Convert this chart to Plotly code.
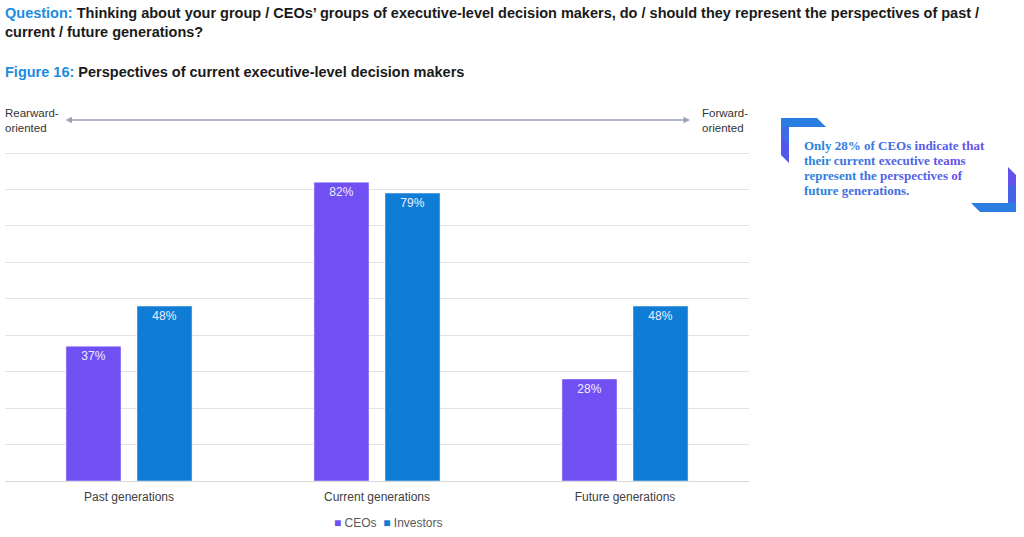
import plotly.graph_objects as go

categories = ["Past generations", "Current generations", "Future generations"]
ceos = [37, 82, 28]
investors = [48, 79, 48]
series_names = ["CEOs", "Investors"]
colors = ["#7050F2", "#0F7DD5"]

W, H = 1024, 537
L, R, T, B = 5, 749, 149, 481  # plot area in px
YMAX = 91.1


def px(x):
    return (x - L) / (R - L)


def py(y):
    return (B - y) / (B - T)


fig = go.Figure()
for name, vals, col in zip(series_names, [ceos, investors], colors):
    fig.add_trace(go.Bar(
        x=categories, y=vals, name=name,
        marker=dict(color=col, line=dict(color="rgba(255,255,255,0.45)", width=1)),
        text=[f"{v}%" for v in vals], textposition="inside", insidetextanchor="end",
        textfont=dict(color="#EEEEFF", size=12, family="Liberation Sans, Arial"),
        showlegend=False,
    ))

fig.update_layout(
    width=W, height=H,
    margin=dict(l=L, r=W - R, t=T, b=H - B),
    paper_bgcolor="white", plot_bgcolor="white",
    barmode="group", bargap=0.427, bargroupgap=0.225,
    font=dict(family="Liberation Sans, Arial", color="#404040"),
    xaxis=dict(showgrid=False, showline=False, ticks="", ticklabelstandoff=7,
               tickfont=dict(size=12, color="#404040")),
    yaxis=dict(range=[0, YMAX], dtick=10, showticklabels=False,
               gridcolor="#E3E3E3", gridwidth=1, zeroline=True,
               zerolinecolor="#D9D9D9", zerolinewidth=1),
)

ann = []
# Titles
ann.append(dict(x=px(3), y=py(3), xref="paper", yref="paper", xanchor="left", yanchor="top",
                align="left", showarrow=False,
                text="<b><span style='color:#1B8CE0'>Question:</span> Thinking about your group / CEOs’ groups of executive-level decision makers, do / should they represent the perspectives of past /<br>current / future generations?</b>",
                font=dict(size=14.5, color="#1A1A1A", family="Liberation Sans, Arial")))
ann.append(dict(x=px(3), y=py(62), xref="paper", yref="paper", xanchor="left", yanchor="top",
                align="left", showarrow=False,
                text="<b><span style='color:#1B8CE0'>Figure 16:</span> Perspectives of current executive-level decision makers</b>",
                font=dict(size=14.5, color="#1A1A1A", family="Liberation Sans, Arial")))
# Orientation labels
ann.append(dict(x=px(3), y=py(105), xref="paper", yref="paper", xanchor="left", yanchor="top",
                align="left", showarrow=False, text="Rearward-<br>oriented",
                font=dict(size=11.5, color="#333333")))
ann.append(dict(x=px(700), y=py(105), xref="paper", yref="paper", xanchor="left", yanchor="top",
                align="left", showarrow=False, text="Forward-<br>oriented",
                font=dict(size=11.5, color="#333333")))
ann.append(dict(x=px(690), y=py(120), xref="paper", yref="paper", text="", showarrow=True,
                ax=-626, ay=0, arrowside="end+start", arrowhead=2, arrowsize=1,
                arrowwidth=1.3, arrowcolor="#9AA2B4"))

# Legend
leg = "&nbsp;&nbsp;".join(
    f"<span style='color:{c}'>■</span>&nbsp;{n}" for n, c in zip(series_names, colors))
ann.append(dict(x=px(388), y=py(523), xref="paper", yref="paper", showarrow=False,
                xanchor="center", yanchor="middle",
                text=leg, font=dict(size=12, color="#595959")))

# Callout text with gradient colouring
callout_lines = ["Only 28% of CEOs indicate that", "their current executive teams",
                 "represent the perspectives of", "future generations."]
c0 = (0x26, 0x88, 0xDC)
c1 = (0x6C, 0x4E, 0xF0)


def grad(t):
    r = [int(a + (b - a) * t) for a, b in zip(c0, c1)]
    return "#%02X%02X%02X" % tuple(r)


maxlen = max(len(s) for s in callout_lines)
for i, line in enumerate(callout_lines):
    parts = []
    pos = 0
    for w in line.split(" "):
        t = (pos + len(w) / 2) / maxlen
        parts.append(f"<span style='color:{grad(t)}'>{w}</span>")
        pos += len(w) + 1
    ann.append(dict(x=px(802), y=py(145 + 15 * i), xref="paper", yref="paper",
                    xanchor="left", yanchor="middle", showarrow=False,
                    text="<b>" + " ".join(parts) + "</b>",
                    font=dict(size=13, family="Liberation Serif, Times New Roman")))

fig.update_layout(annotations=ann)


def path(pts):
    return "M " + " L ".join(f"{px(a)},{py(b)}" for a, b in pts) + " Z"


shapes = [
    dict(type="path", xref="paper", yref="paper", line=dict(width=0), fillcolor="#2A7EE2",
         path=path([(781, 118), (817, 118), (826, 127), (789, 127), (781, 127)])),
    dict(type="path", xref="paper", yref="paper", line=dict(width=0), fillcolor="#3D6CE6",
         path=path([(781, 126), (789, 126), (789, 145), (781, 138)])),
    dict(type="path", xref="paper", yref="paper", line=dict(width=0), fillcolor="#5159EC",
         path=path([(781, 137), (789, 144), (789, 163), (781, 155)])),
    dict(type="path", xref="paper", yref="paper", line=dict(width=0), fillcolor="#6252EE",
         path=path([(1008, 167), (1016, 175), (1016, 186), (1008, 186)])),
    dict(type="path", xref="paper", yref="paper", line=dict(width=0), fillcolor="#4764E8",
         path=path([(1008, 185), (1016, 185), (1016, 204), (1008, 204)])),
    dict(type="path", xref="paper", yref="paper", line=dict(width=0), fillcolor="#2C7CE2",
         path=path([(971, 203), (1016, 203), (1016, 212), (980, 212)])),
]
fig.update_layout(shapes=shapes)

fig.write_html("out.html")
